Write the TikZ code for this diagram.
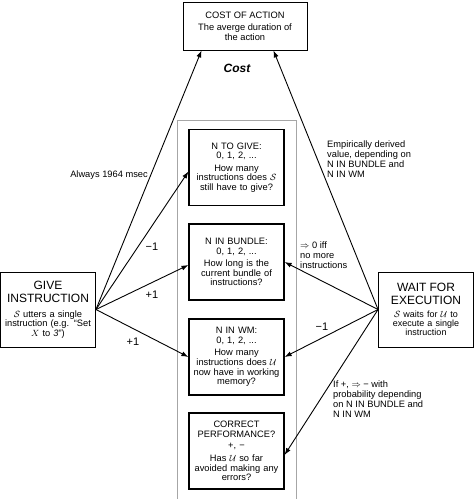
\documentclass[tikz,border=0pt]{standalone}
\usepackage{fontspec}
\setmainfont{Liberation Sans}
\usetikzlibrary{arrows.meta}

\newcommand{\notefont}{\fontsize{9.3}{9.6}\selectfont}
\newcommand{\titlefont}{\fontsize{12}{13}\selectfont}
\newcommand{\signfont}{\fontsize{11}{11}\selectfont}

\tikzset{
	box/.style={draw, line width=0.9pt, align=center, inner sep=1pt, font=\notefont},
	varbox/.style={box, line width=1.1pt, minimum width=95pt, minimum height=76pt, text width=92pt},
	actbox/.style={box, minimum width=95pt, minimum height=75pt, text width=93pt},
	note/.style={align=left, inner sep=0pt, font=\fontsize{9.3}{10}\selectfont},
	sign/.style={inner sep=0pt, font=\signfont},
	link/.style={-{Latex[length=7pt,width=5pt]}, line width=0.9pt},
	frame/.style={gray!70, line width=0.9pt},
}

\begin{document}
\begin{tikzpicture}[x=1pt, y=-1pt]
	\useasboundingbox (0,0) rectangle (474,499);

	% the cost of an action
	\node[box, minimum width=124pt, minimum height=48pt] (cost) at (245,26)
		{COST OF ACTION\\[3pt]The averge duration of\\the action};
	\node[font=\fontsize{12}{12}\selectfont\bfseries\itshape] (costlabel) at (237,68) {Cost};

	% the state variables
	\draw[frame] (177,499) |- (296,120) -- (296,499);
	\node[varbox] (ntogive) at (236.5,167.5)
		{N TO GIVE:\\0, 1, 2, ...\\[3pt]How many\\instructions does $\mathcal{S}$\\still have to give?};
	\node[varbox] (nbundle) at (236.5,262)
		{N IN BUNDLE:\\0, 1, 2, ...\\[3pt]How long is the\\current bundle of\\instructions?};
	\node[varbox] (nwm) at (236.5,357)
		{N IN WM:\\0, 1, 2, ...\\[3pt]How many\\instructions does $\mathcal{U}$\\now have in working\\memory?};
	\node[varbox] (correct) at (236.5,451)
		{CORRECT\\PERFORMANCE?\\[2pt]+, −\\[3pt]Has $\mathcal{U}$ so far\\avoided making any\\errors?};

	% the two actions
	\node[actbox] (give) at (48,309.5)
		{\titlefont GIVE\\INSTRUCTION\\[6pt]\fontsize{9.3}{9.3}\selectfont $\mathcal{S}$ utters a single\\instruction (e.g. ``Set\\$X$ to \textit{3}'')};
	\node[actbox] (wait) at (426,309.5)
		{\titlefont WAIT FOR\\EXECUTION\\[4pt]\fontsize{9}{9}\selectfont $\mathcal{S}$ waits for $\mathcal{U}$ to\\execute a single\\instruction};

	\draw[link] (give.east) -- ([xshift=19pt]cost.south west);
	\draw[link] (give.east) -- ([yshift=-4pt]ntogive.west);
	\draw[link] (give.east) -- ([yshift=-3pt]nbundle.west);
	\draw[link] (give.east) -- (nwm.west);

	\draw[link] (wait.west) -- ([xshift=-34pt]cost.south east);
	\draw[link] (wait.west) -- (nbundle.east);
	\draw[link] (wait.west) -- (nwm.east);
	\draw[link] (wait.west) -- ([yshift=-4pt]correct.east);

	% labels on the links
	\node[note, anchor=east] (always) at (148,175) {Always 1964 msec};
	\node[sign] (givetogive) at (152,247) {−1};
	\node[sign] (givebundle) at (152,295) {+1};
	\node[sign] (givewm) at (133,342) {+1};

	\node[note, anchor=north west] (empirical) at (327,141)
		{Empirically derived\\value, depending on\\N IN BUNDLE and\\N IN WM};
	\node[note, anchor=north west] (iff) at (300,242)
		{$\Rightarrow$ 0 iff\\no more\\instructions};
	\node[sign] (waitwm) at (322,327) {−1};
	\node[note, anchor=north west] (prob) at (333,381)
		{If +, $\Rightarrow$ − with\\probability depending\\on N IN BUNDLE and\\N IN WM};
\end{tikzpicture}
\end{document}
